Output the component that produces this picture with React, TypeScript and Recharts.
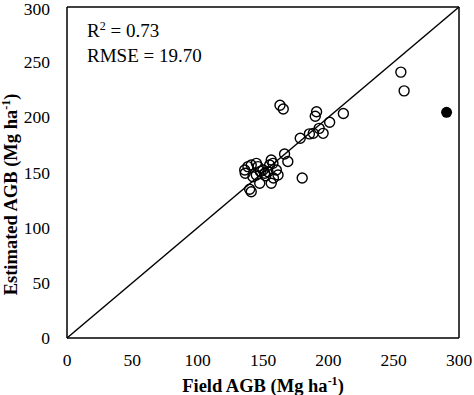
import {
  Label,
  ReferenceLine,
  Scatter,
  ScatterChart,
  XAxis,
  YAxis,
} from "recharts"

// field vs estimated AGB (Mg ha-1), open circles
const fieldAgb = [
  163, 165.5, 191, 190, 211.5, 201, 196, 193, 188.5, 185.5, 178.5, 169, 166.5,
  180, 255.5, 258, 136, 138.5, 141, 136.4, 144.9, 146.2, 150, 151.3, 153.8,
  156.3, 157.6, 155.1, 160.2, 161.5, 142.3, 144.9, 156.3, 139.8, 141, 147.5,
  152, 148, 158,
]
const estimatedAgb = [
  211, 207.5, 205, 201, 203.5, 195.5, 185.5, 190, 185.5, 185, 181, 160, 166.8,
  145, 241, 224, 152.3, 155.3, 156.8, 149.3, 158.3, 155.3, 152.3, 149.3, 150.7,
  161.3, 158.3, 156.8, 152.3, 147.7, 146.2, 147.7, 140.2, 134.8, 132.6, 140.2,
  147, 151, 145,
]

// the single highlighted point
const outlierField = [290.5]
const outlierEstimated = [204.5]

const axisTicks = [0, 50, 100, 150, 200, 250, 300]
const oneToOne = [0, 300]

const stats = ["0.73", "19.70"]

const openPoints = fieldAgb.map((x, i) => ({ x, y: estimatedAgb[i] }))
const filledPoints = outlierField.map((x, i) => ({ x, y: outlierEstimated[i] }))

const font = "'Liberation Serif', 'Times New Roman', serif"

const OpenCircle = (props: any) => (
  <circle
    cx={props.cx}
    cy={props.cy}
    r={5}
    fill="none"
    stroke="#000"
    strokeWidth={1.4}
  />
)

const FilledCircle = (props: any) => (
  <circle cx={props.cx} cy={props.cy} r={5.5} fill="#000" />
)

const XTick = ({ x, y, payload }: any) => (
  <text
    x={x}
    y={y + 12.5}
    textAnchor="middle"
    fontFamily={font}
    fontSize={17.5}
    fill="#000"
  >
    {payload.value}
  </text>
)

const YTick = ({ x, y, payload }: any) => (
  <text
    x={x}
    y={y + 6}
    textAnchor="end"
    fontFamily={font}
    fontSize={17.5}
    fill="#000"
  >
    {payload.value}
  </text>
)

export default function App() {
  return (
    <div
      style={{
        position: "absolute",
        left: 0,
        top: 0,
        width: 474,
        height: 395,
        background: "#fff",
        fontFamily: font,
      }}
    >
      <ScatterChart
        width={474}
        height={395}
        margin={{ top: 7, right: 15, bottom: 15, left: 0 }}
      >
        <XAxis
          type="number"
          dataKey="x"
          domain={[0, 300]}
          ticks={axisTicks}
          allowDataOverflow
          height={42}
          tickLine={false}
          tickSize={0}
          tickMargin={15}
          axisLine={{ stroke: "#000", strokeWidth: 1.5 }}
          tick={<XTick />}
        >
          <Label
            content={({ viewBox }: any) => (
              <text
                x={viewBox.x + viewBox.width / 2}
                y={viewBox.y + 53.5}
                textAnchor="middle"
                fontFamily={font}
                fontWeight="bold"
                fontSize={18.5}
                fill="#000"
              >
                Field AGB (Mg ha
                <tspan dy={-7} fontSize={12}>
                  -1
                </tspan>
                <tspan dy={7}>)</tspan>
              </text>
            )}
          />
        </XAxis>
        <YAxis
          type="number"
          dataKey="y"
          domain={[0, 300]}
          ticks={axisTicks}
          allowDataOverflow
          width={67}
          tickLine={false}
          tickSize={0}
          tickMargin={17}
          axisLine={{ stroke: "#000", strokeWidth: 1.5 }}
          tick={<YTick />}
        >
          <Label
            content={({ viewBox }: any) => {
              const cx = 17
              const cy = viewBox.y + viewBox.height / 2 + 22
              return (
                <text
                  x={cx}
                  y={cy}
                  transform={`rotate(-90 ${cx} ${cy})`}
                  textAnchor="middle"
                  fontFamily={font}
                  fontWeight="bold"
                  fontSize={18.5}
                  fill="#000"
                >
                  Estimated AGB (Mg ha
                  <tspan dy={-7} fontSize={12}>
                    -1
                  </tspan>
                  <tspan dy={7}>)</tspan>
                </text>
              )
            }}
          />
        </YAxis>
        <ReferenceLine y={300} stroke="#000" strokeWidth={1.5} />
        <ReferenceLine x={300} stroke="#000" strokeWidth={1.5} />
        <ReferenceLine
          segment={[
            { x: oneToOne[0], y: oneToOne[0] },
            { x: oneToOne[1], y: oneToOne[1] },
          ]}
          stroke="#000"
          strokeWidth={1.5}
        />
        <Scatter
          data={openPoints}
          shape={OpenCircle}
          isAnimationActive={false}
        />
        <Scatter
          data={filledPoints}
          shape={FilledCircle}
          isAnimationActive={false}
        />
      </ScatterChart>
      <div
        style={{
          position: "absolute",
          left: 87,
          top: 18,
          fontSize: 19,
          lineHeight: "25px",
          color: "#000",
        }}
      >
        <div>
          R<sup style={{ fontSize: 12, verticalAlign: "7px", lineHeight: 0 }}>2</sup> ={" "}
          {stats[0]}
        </div>
        <div>RMSE = {stats[1]}</div>
      </div>
    </div>
  )
}
